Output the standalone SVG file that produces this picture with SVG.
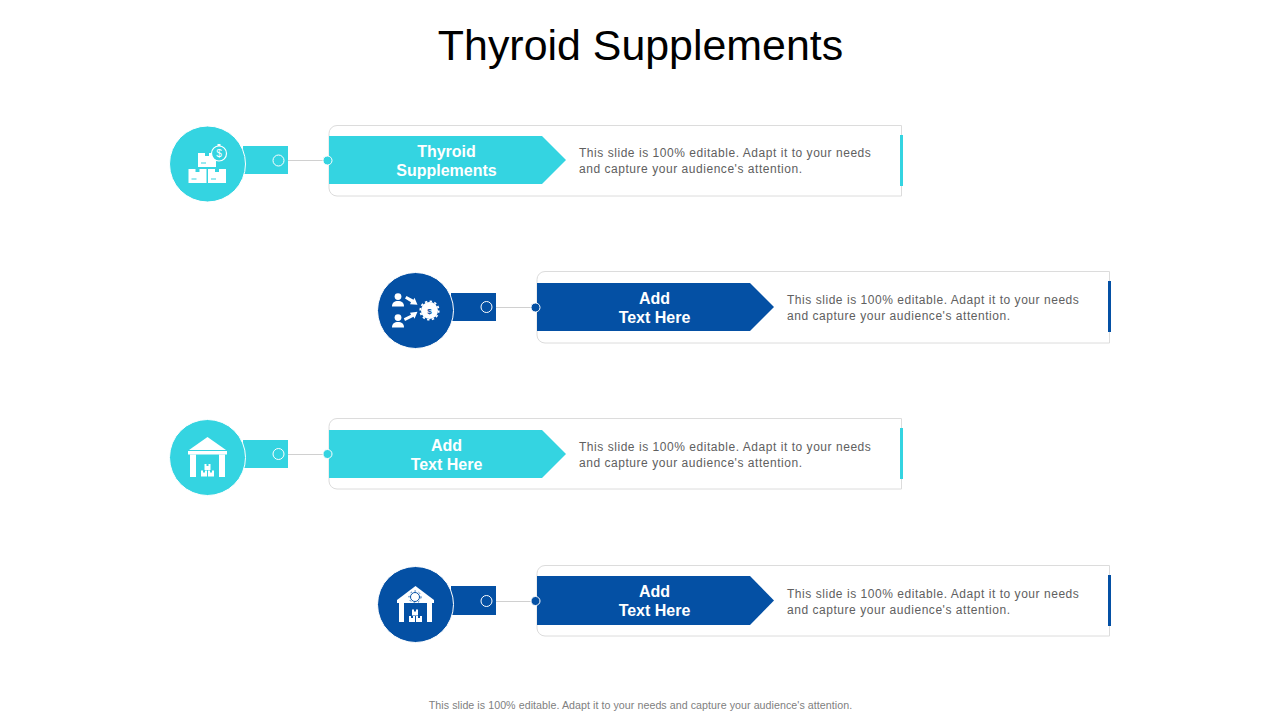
<svg xmlns="http://www.w3.org/2000/svg" width="1280" height="720" viewBox="0 0 1280 720">
<style>
text{font-family:"Liberation Sans",Arial,sans-serif}
.title{font-size:42.9px;fill:#000;text-anchor:middle}
.head{font-size:16px;font-weight:bold;fill:#fff;text-anchor:middle}
.body{font-size:12px;fill:#606060;letter-spacing:.54px}
.foot{font-size:10.67px;fill:#808080;text-anchor:middle;letter-spacing:.055px}
.card{fill:#fff;stroke:#dcdcdc;stroke-width:1}
.wire{stroke:#d0d0d0;stroke-width:1;fill:none}
.ring{stroke:#fff;stroke-width:1;fill:none}
.ic{fill:#fff}
.c{fill:#34D4E1}
.b{fill:#0450A4}
.disc{stroke:#fff;stroke-width:1}
.dot{stroke:#fff;stroke-width:1}
</style>
<defs>
<g id="box"><path d="M0 0h7v3h4V0h7v14H0z"/><rect x="3" y="9.500" width="5" height="1" fill="#34D4E1"/></g>
<g id="person"><circle cx="6" cy="3.6" r="3.4"/><path d="M0 13.500c0-4 2.500-5.500 6-5.500s6 1.500 6 5.500z"/></g>
<g id="crate"><path d="M0 0h2v2h2V0h2v6H0z"/></g>
</defs>
<text class="title" x="640.500" y="60">Thyroid Supplements</text>
<g id="connectors">
<path class="wire" d="M284 160.500H327"/>
<path class="wire" d="M492 307.500H535"/>
<path class="wire" d="M284 454.500H327"/>
<path class="wire" d="M492 601.500H535"/>
</g>
<g id="node-1">
<path class="card" d="M901.500 125.500H337a8 8 0 0 0-8 8V188a8 8 0 0 0 8 8H901.500z"/>
<rect class="c" x="243" y="146" width="45" height="28"/>
<circle class="c disc" cx="207.500" cy="164" r="38"/>
<circle class="ring" cx="278.500" cy="160.500" r="5.500"/>
<path class="c" d="M329 136H542L566 160L542 184H329z"/>
<circle class="c dot" cx="327.500" cy="160.500" r="4.500"/>
<rect class="c" x="900" y="135" width="3" height="51"/>
<g class="ic">
<use href="#box" x="188.500" y="169"/><use href="#box" x="208" y="169"/><use href="#box" x="198" y="153"/>
<circle cx="219" cy="153.500" r="7.500" fill="#34D4E1" stroke="#fff" stroke-width="1.200"/>
<rect x="217.500" y="144" width="3" height="2"/>
</g>
<text x="219" y="157" font-size="10" fill="#fff" text-anchor="middle">$</text>
<text class="head" x="446.500" y="157">Thyroid</text>
<text class="head" x="446.500" y="176">Supplements</text>
<text class="body" x="579" y="157">This slide is 100% editable. Adapt it to your needs</text>
<text class="body" x="579" y="173">and capture your audience's attention.</text>
</g>
<g id="node-2">
<path class="card" d="M1109.500 271.500H545a8 8 0 0 0-8 8V335a8 8 0 0 0 8 8H1109.500z"/>
<rect class="b" x="451" y="293" width="45" height="28"/>
<circle class="b disc" cx="415.500" cy="310.500" r="38"/>
<circle class="ring" cx="486.500" cy="307" r="5.500"/>
<path class="b" d="M537 283H750L774 307L750 331H537z"/>
<circle class="b dot" cx="535.500" cy="307.500" r="4.500"/>
<rect class="b" x="1108" y="281" width="3" height="51"/>
<g class="ic">
<use href="#person" x="392" y="293"/><use href="#person" x="392" y="314"/>
<path d="M405 298.500l1.500-2.500 7 3.700 1-2 3 7-7.500-.5 1-2z"/>
<path d="M405 321l-1.200-2.800 7.200-3.500-1-2 7.500-1-3 7-1-2z"/>
<circle cx="429.500" cy="310.500" r="8.500"/>
<circle cx="429.500" cy="310.500" r="9.200" fill="none" stroke="#fff" stroke-width="1.800" stroke-dasharray="2.400 2.400"/>
</g>
<text x="429.500" y="313.500" font-size="8" font-weight="bold" fill="#0450A4" text-anchor="middle">$</text>
<text class="head" x="654.500" y="304">Add</text>
<text class="head" x="654.500" y="323">Text Here</text>
<text class="body" x="787" y="304">This slide is 100% editable. Adapt it to your needs</text>
<text class="body" x="787" y="320">and capture your audience's attention.</text>
</g>
<g id="node-3">
<path class="card" d="M901.500 418.500H337a8 8 0 0 0-8 8V481a8 8 0 0 0 8 8H901.500z"/>
<rect class="c" x="243" y="440" width="45" height="28"/>
<circle class="c disc" cx="207.500" cy="457.500" r="38"/>
<circle class="ring" cx="278.500" cy="454" r="5.500"/>
<path class="c" d="M329 430H542L566 454L542 478H329z"/>
<circle class="c dot" cx="327.500" cy="454" r="4.500"/>
<rect class="c" x="900" y="428" width="3" height="51"/>
<g class="ic">
<path d="M207.500 437L226 450H189z"/>
<rect x="188" y="451" width="39" height="3.500"/>
<path d="M190 454.500h6V477h-6zM219 454.500h6V477h-6z"/>
<use href="#crate" x="204.500" y="464"/><use href="#crate" x="201" y="470.500"/><use href="#crate" x="208" y="470.500"/>
</g>
<text class="head" x="446.500" y="451">Add</text>
<text class="head" x="446.500" y="470">Text Here</text>
<text class="body" x="579" y="451">This slide is 100% editable. Adapt it to your needs</text>
<text class="body" x="579" y="467">and capture your audience's attention.</text>
</g>
<g id="node-4">
<path class="card" d="M1109.500 565.500H545a8 8 0 0 0-8 8V628a8 8 0 0 0 8 8H1109.500z"/>
<rect class="b" x="451" y="586" width="45" height="29"/>
<circle class="b disc" cx="415.500" cy="604.500" r="38"/>
<circle class="ring" cx="486.500" cy="601" r="5.500"/>
<path class="b" d="M537 576H750L774 600.500L750 625H537z"/>
<circle class="b dot" cx="535.500" cy="601" r="4.500"/>
<rect class="b" x="1108" y="575" width="3" height="51"/>
<g class="ic">
<path d="M415.500 586L434 600H397z"/>
<rect x="397" y="600" width="37" height="3"/>
<path d="M399 603h5v19h-5zM427 603h5v19h-5z"/>
<use href="#crate" x="412" y="609.500"/><use href="#crate" x="409" y="616"/><use href="#crate" x="416" y="616"/>
</g>
<circle cx="415" cy="597" r="4.500" fill="none" stroke="#0450A4" stroke-width="1"/>
<circle cx="415" cy="597" r="6" fill="none" stroke="#0450A4" stroke-width="1" stroke-dasharray="1.500 3"/>
<text class="head" x="654.500" y="597">Add</text>
<text class="head" x="654.500" y="616">Text Here</text>
<text class="body" x="787" y="598">This slide is 100% editable. Adapt it to your needs</text>
<text class="body" x="787" y="614">and capture your audience's attention.</text>
</g>
<text class="foot" x="640.500" y="709">This slide is 100% editable. Adapt it to your needs and capture your audience's attention.</text>
</svg>
